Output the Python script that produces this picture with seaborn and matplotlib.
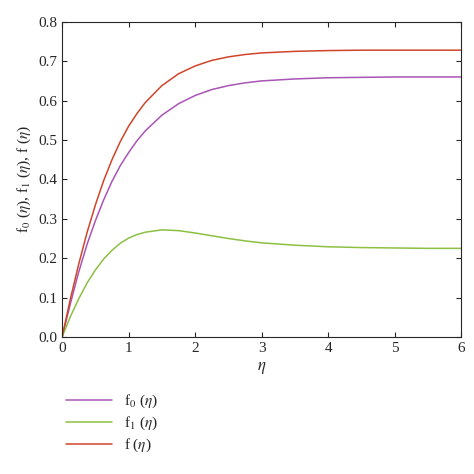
import matplotlib
matplotlib.use("Agg")
import matplotlib.pyplot as plt
import seaborn as sns
import pandas as pd

eta = [0, 0.125, 0.25, 0.375, 0.5, 0.625, 0.75, 0.875, 1.0, 1.125, 1.25, 1.5, 1.75, 2.0, 2.25, 2.5, 2.75, 3.0, 3.5, 4.0, 4.5, 5.0, 5.5, 6.0]
f0 = [0, 0.085, 0.165, 0.235, 0.295, 0.348, 0.395, 0.435, 0.468, 0.498, 0.523, 0.563, 0.592, 0.613, 0.628, 0.638, 0.645, 0.650, 0.655, 0.658, 0.659, 0.660, 0.660, 0.660]
f1 = [0, 0.052, 0.097, 0.137, 0.170, 0.198, 0.220, 0.238, 0.251, 0.260, 0.266, 0.272, 0.270, 0.264, 0.257, 0.250, 0.244, 0.239, 0.233, 0.229, 0.227, 0.226, 0.225, 0.225]
f = [0, 0.097, 0.185, 0.265, 0.335, 0.397, 0.450, 0.496, 0.535, 0.567, 0.595, 0.638, 0.668, 0.688, 0.702, 0.711, 0.717, 0.721, 0.725, 0.727, 0.728, 0.728, 0.728, 0.728]
labels = [r"f$_0$ ($\eta$)", r"f$_1$ ($\eta$)", r"f ($\eta$)"]
colors = ["#a855b5", "#8cc043", "#d0452a"]

sns.set_style("ticks")
plt.rcParams["font.family"] = ["Liberation Serif", "DejaVu Serif"]
plt.rcParams["mathtext.fontset"] = "stix"

df = pd.concat([pd.DataFrame({"eta": eta, "val": v, "s": l}) for v, l in zip([f0, f1, f], labels)])

fig = plt.figure(figsize=(4.74, 4.74), dpi=100)
ax = fig.add_axes([0.131, 0.289, 0.842, 0.665])
sns.lineplot(data=df, x="eta", y="val", hue="s", palette=colors, ax=ax, lw=1.1, legend=True)
ax.set_xlim(0, 6)
ax.set_ylim(0, 0.8)
ax.set_xticks(range(7))
ax.set_yticks([0, 0.1, 0.2, 0.3, 0.4, 0.5, 0.6, 0.7, 0.8])
ax.tick_params(direction="in", top=True, right=True, labelsize=11)
ax.set_xlabel(r"$\eta$", fontsize=12)
ax.set_ylabel(r"f$_0$ ($\eta$), f$_1$ ($\eta$), f ($\eta$)", fontsize=11)
h, l = ax.get_legend_handles_labels()
ax.get_legend().remove()
fig.legend(h, l, loc="upper left", bbox_to_anchor=(0.11, 0.2), frameon=False,
           fontsize=11, handlelength=3, labelspacing=0.3)
fig.savefig("out.png", dpi=100)
